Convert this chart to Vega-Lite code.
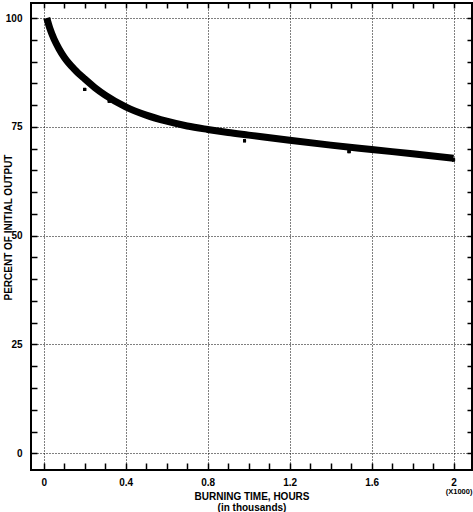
{
  "$schema": "https://vega.github.io/schema/vega-lite/v6.json",
  "width": 441,
  "height": 467,
  "autosize": "none",
  "padding": {"left": 31, "top": 3, "right": 1, "bottom": 42},
  "background": "white",
  "config": {
    "view": {"stroke": "black", "strokeWidth": 2},
    "axis": {"domain": false, "tickColor": "black", "tickWidth": 1.5}
  },
  "datasets": {
    "curve": [
      {"hours": 0.015, "pct": 100},
      {"hours": 0.03, "pct": 97.6},
      {"hours": 0.05, "pct": 95.2},
      {"hours": 0.075, "pct": 92.9},
      {"hours": 0.1, "pct": 91.0},
      {"hours": 0.15, "pct": 88.2},
      {"hours": 0.2, "pct": 86.0},
      {"hours": 0.25, "pct": 84.0},
      {"hours": 0.3, "pct": 82.3},
      {"hours": 0.4, "pct": 79.6},
      {"hours": 0.5, "pct": 77.7},
      {"hours": 0.6, "pct": 76.3},
      {"hours": 0.7, "pct": 75.2},
      {"hours": 0.8, "pct": 74.4},
      {"hours": 0.9, "pct": 73.7},
      {"hours": 1.0, "pct": 73.1},
      {"hours": 1.2, "pct": 71.9},
      {"hours": 1.4, "pct": 70.8},
      {"hours": 1.6, "pct": 69.8},
      {"hours": 1.8, "pct": 68.8},
      {"hours": 2.0, "pct": 67.8}
    ],
    "pts": [
      {"hours": 0.2, "pct": 83.6},
      {"hours": 0.32, "pct": 80.9},
      {"hours": 0.98, "pct": 71.8},
      {"hours": 1.49, "pct": 69.3},
      {"hours": 2.0, "pct": 67.4}
    ],
    "note": [
      {"hours": 2.027, "pct": -9, "label": "(X1000)"}
    ]
  },
  "layer": [
    {
      "data": {"name": "pts"},
      "mark": {"type": "point", "shape": "square", "filled": true, "color": "black", "size": 9, "opacity": 1},
      "encoding": {
        "x": {
          "field": "hours", "type": "quantitative",
          "scale": {"domain": [-0.062, 2.09], "nice": false, "zero": false},
          "axis": {
            "orient": "bottom",
            "values": [0, 0.1, 0.2, 0.3, 0.4, 0.5, 0.6, 0.7, 0.8, 0.9, 1.0, 1.1, 1.2, 1.3, 1.4, 1.5, 1.6, 1.7, 1.8, 1.9, 2.0],
            "labelExpr": "round(datum.value * 10) % 4 === 0 ? format(datum.value, '.1~f') : ''",
            "labelOverlap": false,
            "labelBound": false,
            "ticks": true,
            "tickColor": "black",
            "tickSize": -7,
            "grid": true,
            "gridColor": "black", "gridDash": [1, 2], "gridWidth": 1,
            "gridOpacity": {"condition": {"test": "round(datum.value * 10) % 4 === 0", "value": 1}, "value": 0},
            "labelFont": "Liberation Sans", "labelFontWeight": "bold", "labelFontSize": 10, "labelColor": "black",
            "labelPadding": 14,
            "labelBaseline": "top",
            "labelFlush": false,
            "title": ["BURNING TIME, HOURS", "(in thousands)"],
            "titleFont": "Liberation Sans", "titleFontWeight": "bold", "titleFontSize": 10, "titleColor": "black",
            "titleLineHeight": 11,
            "titleBaseline": "top",
            "titleY": 21
          }
        },
        "y": {
          "field": "pct", "type": "quantitative",
          "scale": {"domain": [-3.84, 103.45], "nice": false, "zero": false},
          "axis": {
            "orient": "left",
            "values": [0, 5, 10, 15, 20, 25, 30, 35, 40, 45, 50, 55, 60, 65, 70, 75, 80, 85, 90, 95, 100],
            "labelExpr": "datum.value % 25 === 0 ? datum.label : ''",
            "labelOverlap": false,
            "labelBound": false,
            "ticks": true,
            "tickColor": "black",
            "tickSize": -6,
            "grid": true,
            "gridColor": "black", "gridDash": [1, 2], "gridWidth": 1,
            "gridOpacity": {"condition": {"test": "datum.value % 25 === 0", "value": 1}, "value": 0},
            "labelFont": "Liberation Sans", "labelFontWeight": "bold", "labelFontSize": 10, "labelColor": "black",
            "labelPadding": 15,
            "labelFlush": false,
            "title": "PERCENT OF INITIAL OUTPUT",
            "titleFont": "Liberation Sans", "titleFontWeight": "bold", "titleFontSize": 10, "titleColor": "black",
            "titleAngle": -90,
            "titleAlign": "center",
            "titleBaseline": "middle",
            "titleX": -23,
            "titleY": 224
          }
        }
      }
    },
    {
      "data": {"name": "pts"},
      "mark": {"type": "point", "shape": "square", "filled": true, "color": "black", "size": 9, "opacity": 1},
      "encoding": {
        "x": {
          "field": "hours", "type": "quantitative",
          "axis": {"orient": "top", "values": [0, 0.1, 0.2, 0.3, 0.4, 0.5, 0.6, 0.7, 0.8, 0.9, 1.0, 1.1, 1.2, 1.3, 1.4, 1.5, 1.6, 1.7, 1.8, 1.9, 2.0], "tickColor": "black", "tickSize": -5, "labels": false, "grid": false, "title": null}
        },
        "y": {
          "field": "pct", "type": "quantitative",
          "axis": {"orient": "right", "values": [0, 5, 10, 15, 20, 25, 30, 35, 40, 45, 50, 55, 60, 65, 70, 75, 80, 85, 90, 95, 100], "tickColor": "black", "tickSize": -5, "labels": false, "grid": false, "title": null}
        }
      }
    },
    {
      "data": {"name": "curve"},
      "mark": {"type": "line", "color": "black", "strokeWidth": 7, "interpolate": "monotone", "strokeCap": "butt"},
      "encoding": {
        "x": {"field": "hours", "type": "quantitative", "axis": null},
        "y": {"field": "pct", "type": "quantitative", "axis": null}
      }
    },
    {
      "data": {"name": "note"},
      "mark": {"type": "text", "font": "Liberation Sans", "fontWeight": "bold", "fontSize": 7.5, "color": "black", "align": "center", "baseline": "middle"},
      "encoding": {
        "x": {"field": "hours", "type": "quantitative", "axis": null},
        "y": {"field": "pct", "type": "quantitative", "axis": null},
        "text": {"field": "label"}
      }
    },
    {
      "data": {"name": "pts"},
      "mark": {"type": "point", "shape": "square", "filled": true, "color": "black", "size": 9, "opacity": 1},
      "encoding": {
        "x": {"field": "hours", "type": "quantitative", "axis": null},
        "y": {"field": "pct", "type": "quantitative", "axis": null}
      }
    }
  ],
  "resolve": {"axis": {"x": "independent", "y": "independent"}}
}
